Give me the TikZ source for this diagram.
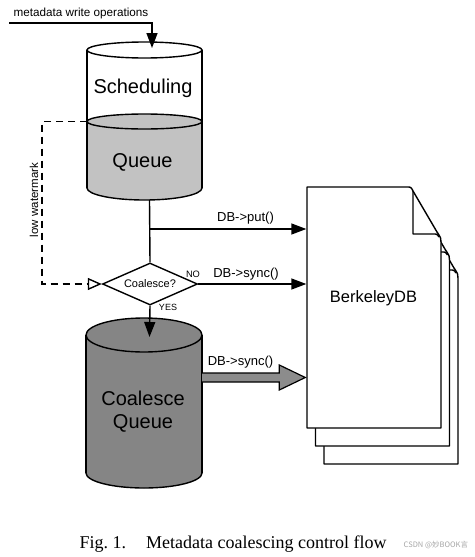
\documentclass[tikz,border=0pt]{standalone}
\usepackage{fontspec}
\setmainfont{Liberation Sans}
\newfontfamily\capfont{Liberation Serif}
\newfontfamily\cjkfont{Noto Sans CJK SC}
\usetikzlibrary{arrows.meta,shapes.geometric,calc}
\definecolor{qgray}{HTML}{C2C2C2}
\definecolor{cgray}{HTML}{858585}
\definecolor{agray}{HTML}{8C8C8C}
\newcommand{\fs}[1]{\fontsize{#1}{#1}\selectfont}
\begin{document}
\begin{tikzpicture}[x=1pt,y=-1pt,line width=1.4pt,
  conn/.style={-{Triangle[length=15pt,width=11pt]}},
  dashline/.style={dash pattern=on 7pt off 5pt},
  txt/.style={inner sep=0pt},
  big/.style={txt,font=\fs{20}},
  mid/.style={txt,font=\fs{13}},
  small/.style={txt,font=\fs{9.3}},
  docpage/.pic={
    \draw[fill=white,line join=round] (0,0) -- (100,0) .. controls (104,0) .. (106,4) -- (130,45) .. controls (134,51) .. (134,55) -- (134,241) -- (0,241) -- cycle;
    \draw[line join=round] (106,4) -- (106,47) -- (126,47) .. controls (130,47) .. (132,50);
  }]
\useasboundingbox (0,0) rectangle (474,557);
\fill[white] (0,0) rectangle (474,557);

% --- BerkeleyDB stack of pages ---
\pic at (324,223) {docpage};
\pic at (315.5,205) {docpage};
\pic at (307,187) {docpage};
\node[txt,minimum width=134pt,minimum height=241pt] (bdb) at (374,307.5) {};
\node[txt,font=\fs{16.5}] (bdbtxt) at (373.5,298) {BerkeleyDB};

% --- Scheduling queue cylinder ---
\fill[qgray] (87,121.5) rectangle (202,188);
\fill[qgray] (144.5,188) ellipse [x radius=57.5,y radius=12];
\begin{scope}
  \clip (80,188) rectangle (210,206);
  \draw (144.5,188) ellipse [x radius=57.5,y radius=12];
\end{scope}
\draw[fill=qgray] (144.5,121.5) ellipse [x radius=57.5,y radius=7.5];
\draw[fill=white] (144.5,50) ellipse [x radius=57.5,y radius=8];
\draw (87,50) -- (87,188) (202,50) -- (202,188);
\node[big] (schedtxt) at (143,88) {Scheduling};
\node[big] (queuetxt) at (142.5,162) {Queue};

% --- incoming metadata writes ---
\node[txt,anchor=base west,font=\fs{11.7}] (mwo) at (13,16.5) {metadata write operations};
\coordinate (mstart) at (9,23);
\coordinate (schedtop) at (152,48);
\draw[conn] (mstart) -| (schedtop);

% --- decision ---
\node[diamond,draw,fill=white,minimum width=95pt,minimum height=42pt,aspect=2.26,inner sep=0pt,font=\fs{11}] (dia) at (150,284) {Coalesce?};
\coordinate (schedbot) at (149.5,200);
\coordinate (branch) at (149.5,229);
\draw (schedbot) -- (dia.north);
\draw[conn] (branch) -- (branch -| bdb.west);
\draw[conn] (dia.east) -- (dia.east -| bdb.west);
\node[mid] (putlbl) at (245.5,218) {DB->put()};
\node[mid] (synclbl) at (246,274) {DB->sync()};
\node[small] (nolbl) at (193,274) {NO};
\node[small,font=\fs{9}] (yeslbl) at (168,307) {YES};

% --- low watermark feedback ---
\coordinate (schedleft) at (87,121.5);
\coordinate (lwcorner) at (42,284);
\draw[dashline,-{Triangle[open,length=14pt,width=12pt]}] (schedleft) -| (lwcorner) -- (dia.west);
\node[txt,rotate=90,font=\fs{11.5}] (lwtxt) at (34,200) {low watermark};

% --- Coalesce queue cylinder ---
\fill[cgray] (86,335) rectangle (202,473);
\fill[cgray] (144,473) ellipse [x radius=58,y radius=15];
\begin{scope}
  \clip (80,473) rectangle (210,492);
  \draw (144,473) ellipse [x radius=58,y radius=15];
\end{scope}
\draw[fill=cgray] (144,335) ellipse [x radius=58,y radius=17];
\draw (86,335) -- (86,473) (202,335) -- (202,473);
\node[big,align=center,font=\fontsize{20}{23}\selectfont] (cqtxt) at (143,411.5) {Coalesce\\Queue};
\coordinate (cqtop) at (149.5,337);
\draw[conn] (dia.south) -- (cqtop);

% --- thick sync arrow ---
\coordinate (cqr) at (202,377.5);
\coordinate (tip) at ($(cqr -| bdb.west)+(-1,0)$);
\draw[fill=agray,line width=1.2pt,line join=miter]
  ($(cqr)+(0,-4.5)$) -- ($(tip)+(-26,-4.5)$) -- ($(tip)+(-26,-12.5)$) -- (tip)
  -- ($(tip)+(-26,12.5)$) -- ($(tip)+(-26,4.5)$) -- ($(cqr)+(0,4.5)$);
\node[mid] (sync2lbl) at (240.5,362) {DB->sync()};

% --- caption ---
\node[txt,anchor=base west,font=\capfont\fs{18}] (cap) at (79,548) {Fig.~1.\hspace{20pt}Metadata coalescing control flow};
\node[txt,anchor=base west,text=black!35,font=\cjkfont\fs{7.5}] (wm) at (403,547) {CSDN @妙BOOK言};
\end{tikzpicture}
\end{document}
